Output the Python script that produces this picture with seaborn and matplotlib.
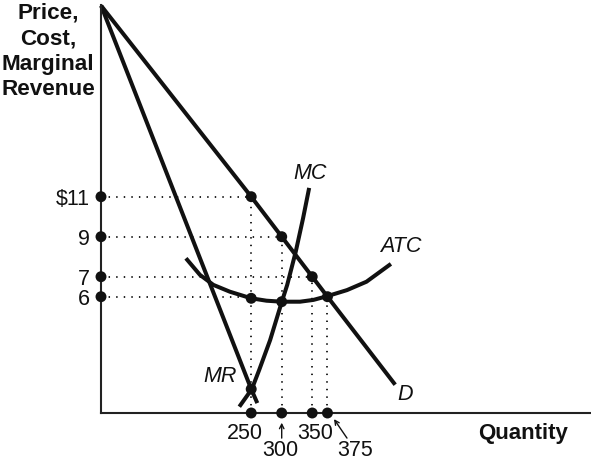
import matplotlib
matplotlib.use("Agg")
import matplotlib.pyplot as plt
import seaborn as sns

# ---- data ----
d_q = [4, 250, 300, 350, 375, 486]
d_p = [20.55, 11, 9, 7, 6, 1.6]

mr_q = [4, 250, 260]
mr_p = [20.55, 1.38, 0.68]

mc_q = [230.5, 251, 263, 281, 300, 309, 323, 335, 345]
mc_p = [0.5, 1.38, 2.33, 3.83, 5.73, 6.59, 8.25, 9.92, 11.44]

atc_q = [143, 166, 188, 215, 250, 275, 300, 330, 352, 375, 407, 439, 479]
atc_p = [7.92, 7.09, 6.59, 6.25, 5.92, 5.80, 5.75, 5.75, 5.84, 6.03, 6.33, 6.75, 7.64]

price_ticks = [6, 7, 9, 11]
price_labels = ["6", "7", "9", "$11"]
qty_ticks = [250, 300, 350, 375]
qty_labels = ["250", "300", "350", "375"]

# points of interest (quantity, price)
pt_q = [250, 300, 350, 375, 250, 300, 250]
pt_p = [11, 9, 7, 6, 5.92, 5.75, 1.38]

# horizontal guides: price and the quantity where each stops
h_guides_p = [11, 9, 7, 6]
h_guides_q = [250, 300, 350, 250]
# vertical guides: quantity and the price where each starts
v_guides_q = [250, 300, 350, 375]
v_guides_p = [11, 9, 7, 6]

sns.set_theme(style="white")
plt.rcParams["font.family"] = ["Liberation Sans", "DejaVu Sans"]

W, H = 591, 463
fig = plt.figure(figsize=(W / 100, H / 100), dpi=100)
ax = fig.add_axes([101 / W, (H - 413) / H, 490 / W, 408 / H])
XMIN, XMAX = 3.77, 807
YMIN, YMAX = 0.185, 20.585
ax.set_xlim(XMIN, XMAX)
ax.set_ylim(YMIN, YMAX)

for s in ["top", "right"]:
    ax.spines[s].set_visible(False)
for s in ["left", "bottom"]:
    ax.spines[s].set_linewidth(1.5)
    ax.spines[s].set_color("#222222")
    ax.spines[s].set_zorder(6)

dot_style = dict(color="#111111", linewidth=1.3, linestyle=(0, (0.8, 3.4)), zorder=1)
for p, q in zip(h_guides_p, h_guides_q):
    ax.plot([XMIN, q], [p, p], **dot_style)
for q, p in zip(v_guides_q, v_guides_p):
    ax.plot([q, q], [YMIN, p], **dot_style)

lw = 2.9
col = "#111111"
sns.lineplot(x=d_q, y=d_p, sort=False, ax=ax, color=col, linewidth=lw,
             clip_on=False, zorder=3, solid_capstyle="butt")
sns.lineplot(x=mr_q, y=mr_p, sort=False, ax=ax, color=col, linewidth=lw,
             clip_on=False, zorder=3, solid_capstyle="butt")
sns.lineplot(x=mc_q, y=mc_p, sort=False, ax=ax, color=col, linewidth=lw,
             zorder=3, solid_capstyle="butt", solid_joinstyle="round")
sns.lineplot(x=atc_q, y=atc_p, sort=False, ax=ax, color=col, linewidth=lw,
             zorder=3, solid_capstyle="butt", solid_joinstyle="round")

msize = 62
sns.scatterplot(x=pt_q, y=pt_p, ax=ax, color=col, s=msize, edgecolor="none",
                zorder=5, clip_on=False)
sns.scatterplot(x=[XMIN] * len(price_ticks), y=price_ticks, ax=ax, color=col,
                s=msize, edgecolor="none", zorder=7, clip_on=False)
sns.scatterplot(x=qty_ticks, y=[YMIN] * len(qty_ticks), ax=ax, color=col,
                s=msize, edgecolor="none", zorder=7, clip_on=False)

ax.set_yticks(price_ticks, labels=price_labels)
ax.set_xticks(qty_ticks, labels=[""] * len(qty_ticks))
ax.tick_params(axis="both", direction="in", length=10, width=1.1,
               color="#808080", labelsize=15.5, pad=8, labelcolor="#111111")
ax.set_xlabel("")
ax.set_ylabel("")

# x tick labels with offsets / arrows
lab_pos = {"250": (239, -0.82), "300": (297.2, -1.67), "350": (355.4, -0.82), "375": (420.2, -1.67)}
for lab in qty_labels:
    x, y = lab_pos[lab]
    ax.text(x, y, lab, ha="center", va="center", fontsize=15.5, color="#111111")
ax.annotate("", xy=(300, -0.3), xytext=(300, -1.07),
            arrowprops=dict(arrowstyle="->", lw=1.0, color="#111111",
                            mutation_scale=8, shrinkA=0, shrinkB=0),
            annotation_clip=False)
ax.annotate("", xy=(385.7, -0.12), xytext=(407, -1.07),
            arrowprops=dict(arrowstyle="->", lw=1.0, color="#111111",
                            mutation_scale=8, shrinkA=0, shrinkB=0),
            annotation_clip=False)

# curve labels
lab_kw = dict(fontsize=15.5, style="italic", ha="center", va="center", color="#111111")
ax.text(345.9, 12.14, "MC", **lab_kw)
ax.text(495.6, 8.5, "ATC", **lab_kw)
ax.text(501.6, 1.1, "D", **lab_kw)
ax.text(198.4, 2.03, "MR", **lab_kw)

# axis titles
fig.text(48 / W, 1 - 3 / H, "Price,\nCost,\nMarginal\nRevenue", ha="center", va="top",
         fontsize=16.2, fontweight="bold", linespacing=1.27, color="#111111")
fig.text(522.6 / W, 1 - 439 / H, "Quantity", ha="center", va="baseline",
         fontsize=16, fontweight="bold", color="#111111")

fig.savefig("out.png", dpi=100)
